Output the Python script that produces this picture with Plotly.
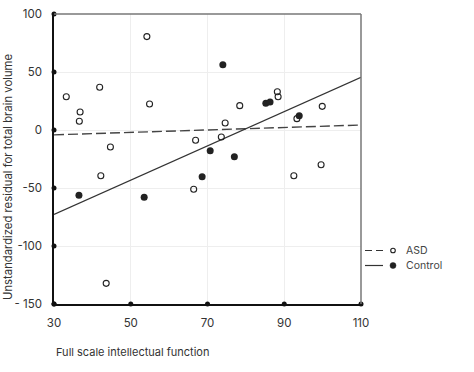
import plotly.graph_objects as go

# ASD (open circles)
asd_x = [33.2, 36.8, 36.6, 41.9, 54.2, 54.9, 44.7, 42.2, 66.9, 73.6, 74.6, 78.4,
         88.2, 88.4, 99.9, 93.3, 99.6, 92.5, 66.4, 43.6]
asd_y = [28.7, 15.5, 7.5, 36.8, 80.5, 22.4, -14.7, -39.4, -8.9, -6.0, 6.0, 21.0,
         33.0, 28.7, 20.4, 9.8, -29.9, -39.4, -51.1, -132.2]
# Control (filled circles)
ctl_x = [74.0, 70.7, 77.0, 68.6, 85.2, 86.3, 93.9, 36.5, 53.5]
ctl_y = [56.3, -17.8, -23.0, -40.2, 23.0, 24.1, 12.3, -56.3, -58.0]

# fitted regression lines
fit_x = [30, 110]
asd_fit = [-4.2, 4.3]
ctl_fit = [-72.7, 45.4]

x_ticks = [30, 50, 70, 90, 110]
y_ticks = [100, 50, 0, -50, -100, -150]
y_labels = ["100", "50", "0", "-50", "-100", "- 150"]

groups = ["ASD", "Control"]

dark = "#222222"
font = "Inter, Open Sans, sans-serif"

# plot area in pixels
L, R, T, B = 54, 361, 14, 304
W, H = R - L, B - T


def px_x(p):
    return (p - L) / W


def px_y(p):
    return (B - p) / H


fig = go.Figure()
fig.add_trace(go.Scatter(x=fit_x, y=asd_fit, mode="lines",
                         line=dict(color="#444", width=1.4, dash="10px,4px"), showlegend=False))
fig.add_trace(go.Scatter(x=fit_x, y=ctl_fit, mode="lines",
                         line=dict(color="#333", width=1.2), showlegend=False))
fig.add_trace(go.Scatter(x=asd_x, y=asd_y, mode="markers", name=groups[0],
                         marker=dict(symbol="circle-open", size=6, color=dark, line=dict(width=1.1)),
                         showlegend=False))
fig.add_trace(go.Scatter(x=ctl_x, y=ctl_y, mode="markers", name=groups[1],
                         marker=dict(symbol="circle", size=7, color=dark),
                         showlegend=False))
# tick dots on the axes
fig.add_trace(go.Scatter(x=[x_ticks[0]] * len(y_ticks), y=y_ticks, mode="markers",
                         marker=dict(size=5, color="#111"), cliponaxis=False, showlegend=False,
                         hoverinfo="skip"))
fig.add_trace(go.Scatter(x=x_ticks, y=[y_ticks[-1]] * len(x_ticks), mode="markers",
                         marker=dict(size=5, color="#111"), cliponaxis=False, showlegend=False,
                         hoverinfo="skip"))

# top and right frame in grey
fig.add_shape(type="line", xref="paper", yref="paper", x0=0, x1=1, y0=1, y1=1,
              line=dict(color="#777", width=1.5))
fig.add_shape(type="line", xref="paper", yref="paper", x0=1, x1=1, y0=0, y1=1,
              line=dict(color="#777", width=1.5))

# manual legend
for k, name in enumerate(groups):
    py = 250.5 + 15 * k
    yp = px_y(py)
    fig.add_shape(type="line", xref="paper", yref="paper", x0=px_x(365), x1=px_x(383), y0=yp, y1=yp,
                  line=dict(color="#333", width=1.2, dash="7px,4px" if k == 0 else "solid"))
    if k == 0:
        fig.add_shape(type="circle", xref="paper", yref="paper", xsizemode="pixel", ysizemode="pixel",
                      xanchor=px_x(393), yanchor=yp, x0=-2.3, x1=2.3, y0=-2.3, y1=2.3,
                      line=dict(color=dark, width=1.1), fillcolor="white")
    else:
        fig.add_shape(type="circle", xref="paper", yref="paper", xsizemode="pixel", ysizemode="pixel",
                      xanchor=px_x(393), yanchor=yp, x0=-3, x1=3, y0=-3, y1=3,
                      line=dict(color=dark, width=0.5), fillcolor=dark)
    fig.add_annotation(xref="paper", yref="paper", x=px_x(404), y=yp, text=name, showarrow=False,
                       xanchor="left", yanchor="middle", xshift=0,
                       font=dict(size=10.5, color="#444", family=font))

# axis titles
fig.add_annotation(xref="paper", yref="paper", x=0, y=px_y(352), text="Full scale intellectual function",
                   showarrow=False, xanchor="left", yanchor="middle",
                   font=dict(size=11, color="#333", family=font))
fig.add_annotation(xref="paper", yref="paper", x=px_x(8), y=px_y(177),
                   text="Unstandardized residual for total brain volume", textangle=-90,
                   showarrow=False, xanchor="center", yanchor="middle",
                   font=dict(size=11.3, color="#333", family=font))

fig.update_layout(
    width=474, height=372,
    margin=dict(l=L, r=474 - R, t=T, b=372 - B, autoexpand=False),
    paper_bgcolor="white", plot_bgcolor="white",
    font=dict(family=font, size=11, color="#333"),
    showlegend=False,
    xaxis=dict(range=[30, 110], tickvals=x_ticks, showgrid=True, gridcolor="#eeeeee",
               gridwidth=1, zeroline=False, showline=True, linecolor="#111", linewidth=1.5,
               ticks="", ticklabelstandoff=7, tickfont=dict(size=11.5, color="#333"),
               automargin=False),
    yaxis=dict(range=[-150, 100], tickvals=y_ticks, ticktext=y_labels, showgrid=True,
               gridcolor="#eeeeee", gridwidth=1, zeroline=False, showline=True,
               linecolor="#111", linewidth=1.5, ticks="", ticklabelstandoff=8,
               tickfont=dict(size=11.5, color="#333"), automargin=False),
)

fig.write_html("out.html", config={"displayModeBar": False},
               post_script="document.body.style.margin='0';document.body.style.padding='0';")
